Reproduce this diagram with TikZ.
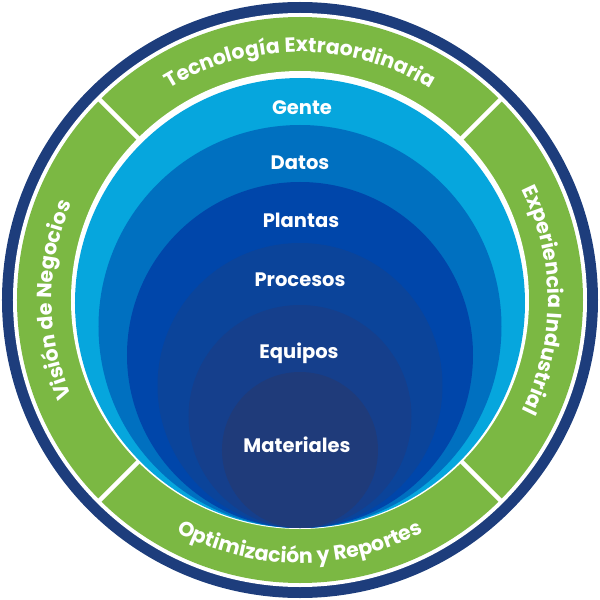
\documentclass[tikz,border=0pt]{standalone}
\usepackage{fontspec}
\setmainfont{Poppins}
\usetikzlibrary{decorations.text}
\definecolor{navy}{HTML}{1D3D7C}
\definecolor{ringgreen}{HTML}{7BB843}
\definecolor{lgente}{HTML}{06A6DD}
\definecolor{ldatos}{HTML}{0070C0}
\definecolor{lplantas}{HTML}{0046AA}
\definecolor{lprocesos}{HTML}{0B449A}
\definecolor{lequipos}{HTML}{153F8C}
\definecolor{lmateriales}{HTML}{1F3B7A}
\tikzset{
  lab/.style={text=white, font=\bfseries\fontsize{19.5}{22}\selectfont, inner sep=0pt},
  divider/.style={white, line width=4.5pt},
}
\newcommand{\ringfont}{\bfseries\fontsize{20.5}{22}\selectfont\color{white}}
\begin{document}
\begin{tikzpicture}[x=1pt,y=1pt]
\useasboundingbox (-300,-300) rectangle (300,300);
% outer navy ring
\fill[navy] (0,0) circle[radius=298];
\fill[white] (0,0) circle[radius=287];
% green ring
\fill[ringgreen] (0,0) circle[radius=283];
\fill[white] (0,0) circle[radius=229];
% dividers
\foreach \a in {45,135,225,315}
  \draw[divider] (\a:227) -- (\a:285);
% nested circles
\fill[lgente] (0,-3) circle[radius=225];
\fill[ldatos] (0,-26.5) circle[radius=201.5];
\fill[lplantas] (0,-55) circle[radius=173];
\fill[lprocesos] (0,-85.5) circle[radius=142.5];
\fill[lequipos] (0,-116.5) circle[radius=111.5];
\fill[lmateriales] (0,-150) circle[radius=78];
% inner labels
\node[lab] (gente) at (2,192) {Gente};
\node[lab] (datos) at (0,137) {Datos};
\node[lab] (plantas) at (1,80) {Plantas};
\node[lab] (procesos) at (0,20) {Procesos};
\node[lab] (equipos) at (-1,-53) {Equipos};
\node[lab] (materiales) at (-3,-145) {Materiales};
% ring labels
\path[decorate, decoration={text along path, text align=center,
  text={|\ringfont|Tecnología Extraordinaria}}]
  (150:248) arc[start angle=150, end angle=30, radius=248];
\path[decorate, decoration={text along path, text align=center,
  text={|\ringfont|Experiencia Industrial}}]
  (60:248) arc[start angle=60, end angle=-60, radius=248];
\path[decorate, decoration={text along path, text align=center,
  text={|\ringfont|Optimización y Reportes}}]
  (210:263) arc[start angle=210, end angle=330, radius=263];
\path[decorate, decoration={text along path, text align=center,
  text={|\ringfont|Visión de Negocios}}]
  (240:248) arc[start angle=240, end angle=120, radius=248];
\end{tikzpicture}
\end{document}
